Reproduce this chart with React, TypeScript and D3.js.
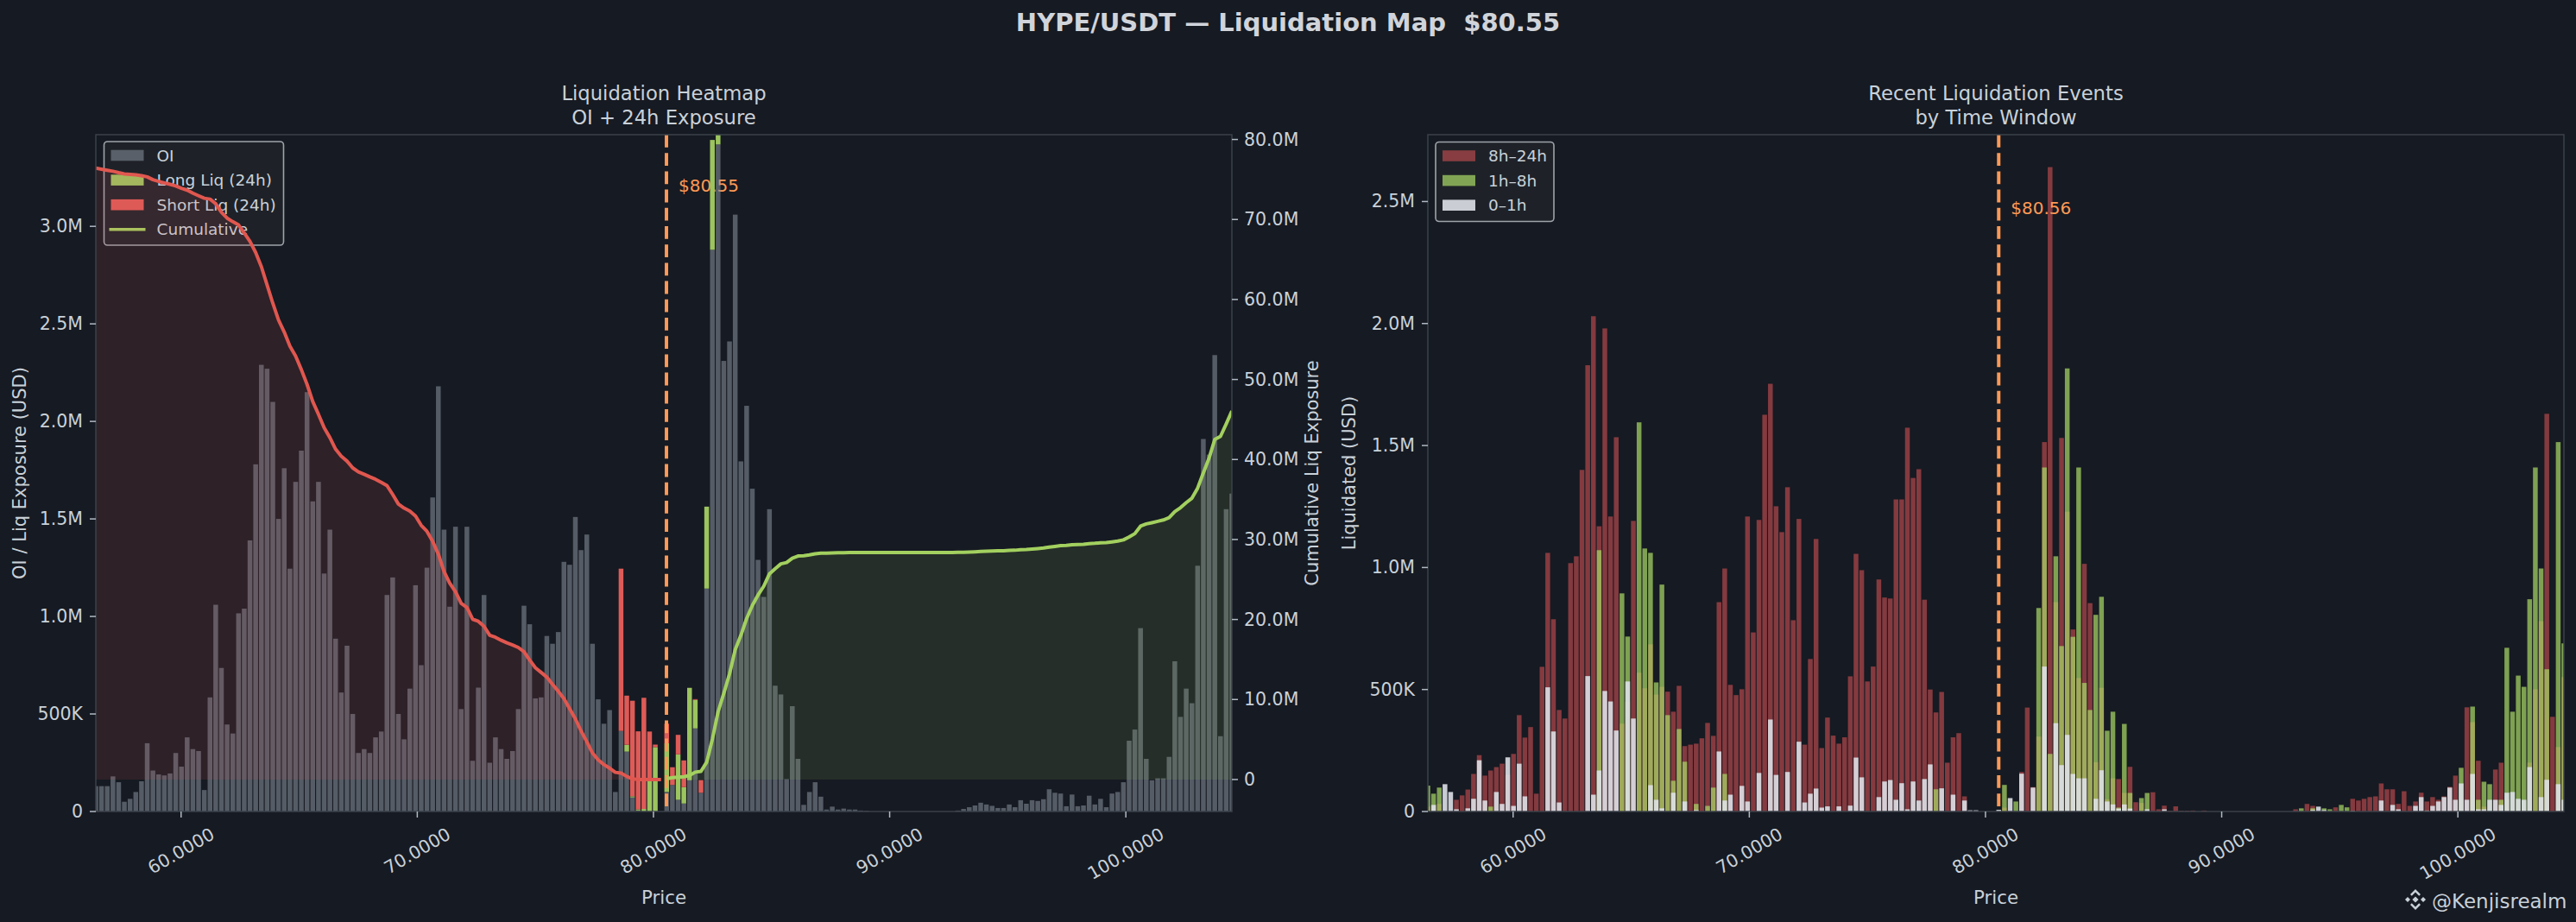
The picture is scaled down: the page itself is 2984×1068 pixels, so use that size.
import React, { useEffect } from 'react';
import * as d3 from 'd3';

// figure size
const W = 2984;
const H = 1068;

// price bins (bin centres run edge to edge of the x axis)
const PRICE_LO = 56.39;
const PRICE_HI = 104.49;
const N_BINS = 200;
const CUR_PRICE = 80.55;
const CUR_PRICE_RECENT = 80.56;

// open interest per bin, USD millions
const OI = [
  0.13, 0.13, 0.13, 0.18, 0.15, 0.05, 0.065, 0.1, 0.155, 0.35,
  0.21, 0.19, 0.185, 0.195, 0.3, 0.23, 0.38, 0.32, 0.31, 0.11,
  0.585, 1.06, 0.736, 0.446, 0.4, 1.016, 1.04, 1.39, 1.78, 2.29,
  2.27, 2.1, 1.5, 1.76, 1.245, 1.69, 1.85, 2.15, 1.59, 1.69,
  1.22, 1.445, 0.886, 0.61, 0.85, 0.5, 0.3, 0.32, 0.3, 0.38,
  0.41, 1.11, 1.2, 0.5, 0.37, 0.63, 1.16, 0.75, 1.25, 1.61,
  2.18, 1.445, 1.05, 1.46, 0.525, 1.46, 0.26, 0.635, 1.11, 0.25,
  0.38, 0.32, 0.27, 0.31, 0.525, 1.055, 0.96, 0.58, 0.585, 0.9,
  0.86, 0.92, 1.28, 1.265, 1.51, 1.34, 1.42, 0.86, 0.575, 0.45,
  0.52, 0.1, 0.413, 0.307, 0.072, 0.005, 0, 0, 0, 0,
  0.1, 0.136, 0.06, 0.041, 0.16, 0.426, 0.096, 1.143, 2.88, 3.42,
  2.31, 2.41, 3.06, 1.795, 2.08, 1.655, 1.29, 1.1, 1.55, 0.645,
  0.6, 0.166, 0.54, 0.27, 0.034, 0.1, 0.15, 0.076, 0.01, 0.025,
  0.01, 0.015, 0.01, 0.01, 0.005, 0.003, 0, 0, 0, 0,
  0, 0, 0, 0, 0, 0, 0, 0, 0, 0,
  0, 0.005, 0.013, 0.022, 0.031, 0.045, 0.036, 0.029, 0.018, 0.018,
  0.036, 0.022, 0.058, 0.04, 0.058, 0.054, 0.063, 0.114, 0.096, 0.092,
  0.027, 0.087, 0.027, 0.031, 0.081, 0.036, 0.065, 0.022, 0.092, 0.1,
  0.15, 0.363, 0.42, 0.94, 0.27, 0.16, 0.17, 0.17, 0.28, 0.77,
  0.485, 0.63, 0.555, 1.26, 1.91, 1.83, 2.34, 0.386, 1.55, 1.63,
];

// 24h liquidation exposure near price, bins 92..109, USD millions
const LIQ_START = 92;
const LONG_LIQ = [0, 0.035, 0.006, 0.006, 0.013, 0.16, 0.33, 0, 0.25, 0, 0.233, 0.084, 0.474, 0.146, 0, 0.42, 0.563, 0.06];
const SHORT_LIQ = [0.832, 0.252, 0.49, 0.4, 0.57, 0.25, 0.013, 0, 0.1, 0.091, 0.1, 0.137, 0, 0.004, 0.065, 0, 0, 0];

// recent liquidation events by window, USD millions
const LIQ_8H_24H = [
  0.02, 0, 0.031, 0, 0, 0.048, 0.066, 0.09, 0.154, 0.231,
  0.147, 0.168, 0.182, 0.196, 0.15, 0.236, 0.395, 0.303, 0.346, 0.073,
  0.593, 1.06, 0.788, 0.416, 0.381, 1.018, 1.046, 1.4, 1.829, 2.03,
  1.169, 1.98, 1.209, 1.534, 0.36, 0.45, 1.191, 0.569, 0.505, 0.685,
  0.479, 0.511, 0.491, 0.409, 0.515, 0.268, 0.274, 0.278, 0.3, 0.363,
  0.31, 0.858, 0.996, 0.519, 0.477, 0.501, 1.209, 0.734, 1.195, 1.626,
  1.753, 1.251, 1.145, 1.329, 0.784, 1.199, 0.274, 0.625, 1.117, 0.26,
  0.385, 0.311, 0.278, 0.304, 0.554, 1.056, 0.989, 0.533, 0.594, 0.951,
  0.877, 0.873, 1.279, 1.279, 1.573, 1.367, 1.403, 0.868, 0.5, 0.406,
  0.49, 0.2, 0.304, 0.321, 0.062, 0, 0, 0, 0, 0,
  0, 0.016, 0, 0, 0.162, 0.426, 0.1, 0.307, 1.514, 2.641,
  0.858, 1.531, 1.229, 0.746, 0.547, 1.015, 0.854, 0.202, 0.507, 0.05,
  0.136, 0.133, 0.076, 0.183, 0.038, 0.035, 0, 0.079, 0.009, 0.024,
  0.003, 0.021, 0.003, 0.003, 0.004, 0, 0.004, 0, 0, 0,
  0, 0, 0, 0, 0, 0, 0, 0, 0, 0,
  0, 0, 0.009, 0, 0.031, 0.023, 0, 0, 0, 0.017,
  0, 0, 0.052, 0.045, 0.052, 0.059, 0.062, 0.115, 0.091, 0.091,
  0.031, 0.083, 0.023, 0.041, 0.077, 0.041, 0.059, 0.048, 0.062, 0.101,
  0.147, 0.05, 0.427, 0.366, 0.208, 0.02, 0, 0.172, 0.2, 0.05,
  0, 0, 0, 0.2, 0.501, 0.78, 1.63, 0.388, 0.264, 0.551,
];
const LIQ_1H_8H = [
  0.106, 0.073, 0.098, 0, 0, 0, 0, 0, 0, 0,
  0, 0.02, 0, 0, 0, 0, 0, 0, 0, 0,
  0, 0, 0, 0, 0, 0, 0, 0, 0, 0,
  1.071, 0, 0, 0, 0.894, 0.717, 0, 1.595, 1.078, 1.06,
  0.529, 0.93, 0.395, 0.126, 0.338, 0.204, 0, 0.031, 0, 0.023,
  0.098, 0, 0.154, 0, 0, 0, 0, 0, 0, 0,
  0, 0, 0, 0, 0, 0, 0, 0, 0, 0,
  0, 0, 0, 0, 0, 0, 0, 0, 0, 0,
  0, 0, 0, 0, 0, 0, 0, 0, 0, 0.091,
  0, 0, 0, 0, 0, 0, 0, 0, 0, 0,
  0, 0.109, 0, 0.041, 0, 0, 0, 0.834, 1.41, 0.236,
  1.046, 0.678, 1.816, 0.716, 1.41, 0.527, 0.416, 0.806, 0.88, 0.331,
  0.409, 0.016, 0.359, 0.076, 0, 0.055, 0.076, 0, 0, 0,
  0, 0, 0, 0, 0, 0, 0, 0, 0, 0,
  0, 0, 0, 0, 0, 0, 0, 0, 0, 0,
  0, 0, 0, 0.013, 0, 0.013, 0, 0.013, 0.009, 0,
  0.027, 0.017, 0, 0, 0, 0, 0, 0, 0, 0,
  0, 0, 0, 0, 0, 0, 0, 0, 0, 0,
  0, 0.179, 0, 0.43, 0.048, 0.122, 0.112, 0, 0.048, 0.671,
  0.409, 0.557, 0.511, 0.87, 1.41, 0.996, 0.583, 0, 1.514, 0.689,
];
const LIQ_0_1H = [
  0, 0.027, 0, 0.112, 0.08, 0.009, 0, 0.013, 0.052, 0.21,
  0.045, 0, 0.08, 0.031, 0.222, 0.023, 0.196, 0.062, 0, 0,
  0, 0.509, 0.328, 0.037, 0, 0, 0, 0, 0.555, 0.069,
  0.168, 0.494, 0.451, 0.332, 0, 0.533, 0.381, 0, 0, 0.108,
  0.048, 0.013, 0, 0.077, 0, 0.041, 0, 0.006, 0, 0,
  0, 0.246, 0.045, 0.069, 0, 0.105, 0.041, 0, 0.158, 0,
  0.377, 0.15, 0, 0.162, 0, 0.286, 0.037, 0.073, 0.094, 0.016,
  0.021, 0, 0.021, 0, 0.024, 0.221, 0.14, 0, 0, 0.059,
  0.123, 0.129, 0.048, 0.116, 0.009, 0.123, 0.045, 0.133, 0.193, 0,
  0.095, 0, 0.069, 0, 0.045, 0.005, 0.005, 0, 0, 0,
  0.007, 0, 0.055, 0, 0.155, 0, 0.098, 0, 0.594, 0,
  0.362, 0.19, 0.314, 0.154, 0.136, 0.136, 0, 0.052, 0.169, 0.041,
  0.029, 0.012, 0.029, 0.012, 0, 0, 0.009, 0, 0, 0.009,
  0, 0, 0, 0, 0, 0, 0, 0, 0, 0,
  0, 0, 0, 0, 0, 0, 0, 0, 0, 0,
  0, 0, 0, 0, 0, 0.006, 0.02, 0.006, 0, 0,
  0, 0, 0.003, 0, 0, 0, 0, 0.045, 0, 0.027,
  0.009, 0, 0, 0.023, 0.059, 0.004, 0.023, 0.041, 0.059, 0.098,
  0.048, 0.115, 0.048, 0.154, 0.009, 0.009, 0.048, 0.048, 0.027, 0.077,
  0.08, 0.052, 0.048, 0.182, 0, 0.059, 0.13, 0, 0.112, 0.048,
];

// ticks
const X_TICKS = [60, 70, 80, 90, 100];
const OI_TICKS = [0, 0.5, 1, 1.5, 2, 2.5, 3];
const CUM_TICKS = [0, 10, 20, 30, 40, 50, 60, 70, 80];
const RECENT_TICKS = [0, 0.5, 1, 1.5, 2, 2.5];

const BG = '#161a22';
const TXT = '#c9d1d9';
const SPINE = '#3b414a';
const TICK = '#b1bac4';
const ORANGE = '#ff9955';
const FONT = '"DejaVu Sans", sans-serif';

const fmtUsd = (v: number) => (v === 0 ? '0' : v < 1 ? `${Math.round(v * 1000)}K` : `${v.toFixed(1)}M`);

const binW = (PRICE_HI - PRICE_LO) / (N_BINS - 1);
const centers = d3.range(N_BINS).map((i) => PRICE_LO + i * binW);

// panel boxes
const LP = { x0: 111, x1: 1427, y0: 156, y1: 940 };
const RP = { x0: 1654, x1: 2970, y0: 156, y1: 940 };

const XTicks = ({ x, box }: { x: d3.ScaleLinear<number, number>; box: typeof LP }) => (
  <g>
    {X_TICKS.map((t) => {
      const label = t.toFixed(4);
      const w = 20.5 * (0.636 * (label.length - 1) + 0.318);
      const h = w * 0.5 + 13;
      return (
        <g key={t}>
          <line x1={x(t)} x2={x(t)} y1={box.y1} y2={box.y1 + 7} stroke={TICK} strokeWidth={1.5} />
          <text
            transform={`translate(${x(t)},${box.y1 + 18 + h / 2}) rotate(-30)`}
            textAnchor="middle"
            dominantBaseline="central"
            fontSize={20.5}
            fill={TXT}
          >
            {label}
          </text>
        </g>
      );
    })}
    <text x={(box.x0 + box.x1) / 2} y={1047} textAnchor="middle" fontSize={21.4} fill={TXT}>
      Price
    </text>
  </g>
);

const YTicks = ({ y, ticks, xAt, side }: { y: d3.ScaleLinear<number, number>; ticks: number[]; xAt: number; side: 'left' | 'right' }) => (
  <g>
    {ticks.map((t) => (
      <g key={t}>
        <line x1={xAt} x2={side === 'left' ? xAt - 7 : xAt + 7} y1={y(t)} y2={y(t)} stroke={TICK} strokeWidth={1.5} />
        <text
          x={side === 'left' ? xAt - 15 : xAt + 14}
          y={y(t)}
          textAnchor={side === 'left' ? 'end' : 'start'}
          dominantBaseline="central"
          fontSize={20.5}
          fill={TXT}
        >
          {fmtUsd(t)}
        </text>
      </g>
    ))}
  </g>
);

const Legend = ({ x, y, w, h, items }: { x: number; y: number; w: number; h: number; items: { label: string; color: string; opacity?: number; line?: boolean }[] }) => (
  <g>
    <rect x={x} y={y} width={w} height={h} rx={4} fill="#1e2228" stroke="#9ea4ab" strokeWidth={1.6} />
    {items.map((it, k) => {
      const cy = y + 16 + k * 28.6;
      return (
        <g key={it.label}>
          {it.line ? (
            <line x1={x + 6} x2={x + 48} y1={cy} y2={cy} stroke={it.color} strokeWidth={3.5} />
          ) : (
            <rect x={x + 8} y={cy - 6.3} width={38} height={12.6} fill={it.color} opacity={it.opacity ?? 1} />
          )}
          <text x={x + 61} y={cy} dominantBaseline="central" fontSize={18.5} fill={TXT}>
            {it.label}
          </text>
        </g>
      );
    })}
  </g>
);

const diamond = (cx: number, cy: number, r: number) => `${cx},${cy - r} ${cx + r},${cy} ${cx},${cy + r} ${cx - r},${cy}`;

export default function App() {
  useEffect(() => {
    document.body.style.margin = '0';
    document.body.style.background = BG;
  }, []);

  // left panel scales
  const xL = d3.scaleLinear().domain([PRICE_LO, PRICE_HI]).range([LP.x0, LP.x1]);
  const yL = d3.scaleLinear().domain([0, 3.47]).range([LP.y1, LP.y0]);
  const yCum = d3.scaleLinear().domain([-4.0, 80.6]).range([LP.y1, LP.y0]);
  // right panel scales
  const xR = d3.scaleLinear().domain([PRICE_LO, PRICE_HI]).range([RP.x0, RP.x1]);
  const yR = d3.scaleLinear().domain([0, 2.774]).range([RP.y1, RP.y0]);

  const barPx = (xs: d3.ScaleLinear<number, number>) => xs(PRICE_LO + binW * 0.83) - xs(PRICE_LO);
  const bwL = barPx(xL);
  const bwR = barPx(xR);

  // cumulative OI moving outward from the current price
  const below = d3.range(N_BINS).filter((i) => centers[i] < CUR_PRICE);
  const above = d3.range(N_BINS).filter((i) => centers[i] >= CUR_PRICE);
  const revSum = Array.from(d3.cumsum(below.slice().reverse().map((i) => OI[i]))).reverse();
  const cumBelow: [number, number][] = below.map((i, k) => [centers[i], revSum[k]]);
  const fwdSum = Array.from(d3.cumsum(above.map((i) => OI[i])));
  const cumAbove: [number, number][] = above.map((i, k) => [centers[i], fwdSum[k]]);

  const line = d3
    .line<[number, number]>()
    .x((d) => xL(d[0]))
    .y((d) => yCum(d[1]));
  const area = d3
    .area<[number, number]>()
    .x((d) => xL(d[0]))
    .y0(yCum(0))
    .y1((d) => yCum(d[1]));

  const liq = (arr: number[], i: number) => (i >= LIQ_START && i < LIQ_START + arr.length ? arr[i - LIQ_START] : 0);

  const recentSeries = [
    { data: LIQ_8H_24H, color: '#b3484b', opacity: 0.7 },
    { data: LIQ_1H_8H, color: '#abdb67', opacity: 0.7 },
    { data: LIQ_0_1H, color: '#dde0e6', opacity: 0.9 },
  ];

  return (
    <svg width={W} height={H} viewBox={`0 0 ${W} ${H}`} style={{ display: 'block', background: BG, fontFamily: FONT }}>
      <defs>
        <clipPath id="clipL">
          <rect x={LP.x0} y={LP.y0} width={LP.x1 - LP.x0} height={LP.y1 - LP.y0} />
        </clipPath>
        <clipPath id="clipR">
          <rect x={RP.x0} y={RP.y0} width={RP.x1 - RP.x0} height={RP.y1 - RP.y0} />
        </clipPath>
      </defs>
      <rect width={W} height={H} fill={BG} />

      <text x={W / 2} y={36} textAnchor="middle" fontSize={29} fontWeight="bold" fill="#d0d4da" style={{ whiteSpace: 'pre' }}>
        {'HYPE/USDT \u2014 Liquidation Map  $80.55'}
      </text>

      {/* ---------- left: heatmap ---------- */}
      <text x={(LP.x0 + LP.x1) / 2} y={116} textAnchor="middle" fontSize={22.7} fill={TXT}>
        Liquidation Heatmap
      </text>
      <text x={(LP.x0 + LP.x1) / 2} y={144} textAnchor="middle" fontSize={22.7} fill={TXT}>
        OI + 24h Exposure
      </text>

      <g clipPath="url(#clipL)">
        <text x={xL(CUR_PRICE) + 14} y={222} fontSize={20} fill={ORANGE}>
          ${CUR_PRICE.toFixed(2)}
        </text>
        {centers.map((c, i) =>
          OI[i] > 0 ? (
            <rect key={`oi${i}`} x={xL(c) - bwL / 2} y={yL(OI[i])} width={bwL} height={yL(0) - yL(OI[i])} fill="#8b949e" opacity={0.55} />
          ) : null,
        )}
        {centers.map((c, i) => {
          const lg = liq(LONG_LIQ, i);
          if (!lg) return null;
          return <rect key={`lg${i}`} x={xL(c) - bwL / 2} y={yL(OI[i] + lg)} width={bwL} height={yL(OI[i]) - yL(OI[i] + lg)} fill="#9cc45f" />;
        })}
        {centers.map((c, i) => {
          const sh = liq(SHORT_LIQ, i);
          if (!sh) return null;
          const base = OI[i] + liq(LONG_LIQ, i);
          return <rect key={`sh${i}`} x={xL(c) - bwL / 2} y={yL(base + sh)} width={bwL} height={yL(base) - yL(base + sh)} fill="#de5b57" />;
        })}
        <line x1={xL(CUR_PRICE)} x2={xL(CUR_PRICE)} y1={LP.y0} y2={LP.y1} stroke={ORANGE} strokeWidth={4} strokeDasharray="14.8 6.4" />
      </g>

      <Legend
        x={120.5}
        y={164}
        w={208}
        h={120}
        items={[
          { label: 'OI', color: '#8b949e', opacity: 0.55 },
          { label: 'Long Liq (24h)', color: '#9cc45f' },
          { label: 'Short Liq (24h)', color: '#de5b57' },
          { label: 'Cumulative', color: '#a3d05f', line: true },
        ]}
      />

      {/* twin axis: cumulative exposure */}
      <g clipPath="url(#clipL)">
        <path d={area(cumBelow) ?? ''} fill="#e05b57" opacity={0.12} />
        <path d={area(cumAbove) ?? ''} fill="#9bc85f" opacity={0.12} />
        <path d={line(cumBelow) ?? ''} fill="none" stroke="#e0574f" strokeWidth={4} strokeLinejoin="round" />
        <path d={line(cumAbove) ?? ''} fill="none" stroke="#a3d05f" strokeWidth={4} strokeLinejoin="round" />
      </g>

      <rect x={LP.x0} y={LP.y0} width={LP.x1 - LP.x0} height={LP.y1 - LP.y0} fill="none" stroke={SPINE} strokeWidth={1.5} />
      <YTicks y={yL} ticks={OI_TICKS} xAt={LP.x0} side="left" />
      <YTicks y={yCum} ticks={CUM_TICKS} xAt={LP.x1} side="right" />
      <XTicks x={xL} box={LP} />
      <text transform={`translate(30,${(LP.y0 + LP.y1) / 2}) rotate(-90)`} textAnchor="middle" fontSize={21} fill={TXT}>
        OI / Liq Exposure (USD)
      </text>
      <text transform={`translate(1527,${(LP.y0 + LP.y1) / 2}) rotate(-90)`} textAnchor="middle" fontSize={21} fill={TXT}>
        Cumulative Liq Exposure
      </text>

      {/* ---------- right: recent events ---------- */}
      <text x={(RP.x0 + RP.x1) / 2} y={116} textAnchor="middle" fontSize={22.7} fill={TXT}>
        Recent Liquidation Events
      </text>
      <text x={(RP.x0 + RP.x1) / 2} y={144} textAnchor="middle" fontSize={22.7} fill={TXT}>
        by Time Window
      </text>

      <g clipPath="url(#clipR)">
        {recentSeries.map((s, k) => (
          <g key={k}>
            {centers.map((c, i) =>
              s.data[i] > 0 ? (
                <rect key={i} x={xR(c) - bwR / 2} y={yR(s.data[i])} width={bwR} height={yR(0) - yR(s.data[i])} fill={s.color} opacity={s.opacity} />
              ) : null,
            )}
          </g>
        ))}
        <line x1={xR(CUR_PRICE_RECENT)} x2={xR(CUR_PRICE_RECENT)} y1={RP.y0} y2={RP.y1} stroke={ORANGE} strokeWidth={4} strokeDasharray="14.8 6.4" />
        <text x={xR(CUR_PRICE_RECENT) + 14} y={248} fontSize={20} fill={ORANGE}>
          ${CUR_PRICE_RECENT.toFixed(2)}
        </text>
      </g>

      <Legend
        x={1663}
        y={164.5}
        w={137}
        h={92}
        items={[
          { label: '8h\u201324h', color: '#b3484b', opacity: 0.7 },
          { label: '1h\u20138h', color: '#abdb67', opacity: 0.7 },
          { label: '0\u20131h', color: '#dde0e6', opacity: 0.9 },
        ]}
      />

      <rect x={RP.x0} y={RP.y0} width={RP.x1 - RP.x0} height={RP.y1 - RP.y0} fill="none" stroke={SPINE} strokeWidth={1.5} />
      <YTicks y={yR} ticks={RECENT_TICKS} xAt={RP.x0} side="left" />
      <XTicks x={xR} box={RP} />
      <text transform={`translate(1570,${(RP.y0 + RP.y1) / 2}) rotate(-90)`} textAnchor="middle" fontSize={21} fill={TXT}>
        Liquidated (USD)
      </text>

      {/* watermark */}
      <g fill={TXT}>
        <polygon points={diamond(2798, 1042, 3.6)} />
        <polygon points={diamond(2789, 1042, 3)} />
        <polygon points={diamond(2807, 1042, 3)} />
        <polygon points="2792,1036 2798,1030 2804,1036 2802.2,1037.8 2798,1033.6 2793.8,1037.8" />
        <polygon points="2792,1048 2798,1054 2804,1048 2802.2,1046.2 2798,1050.4 2793.8,1046.2" />
      </g>
      <text x={2817} y={1052} fontSize={23} fill={TXT}>
        @Kenjisrealm
      </text>
    </svg>
  );
}
